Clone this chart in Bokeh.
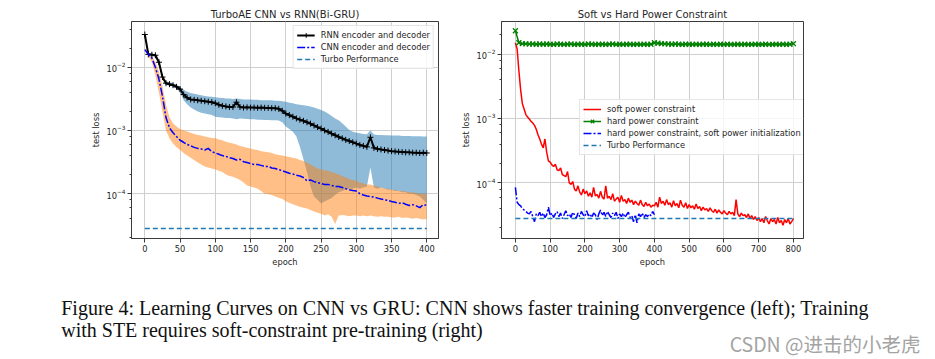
from bokeh.plotting import figure
from bokeh.models import Range1d, SingleIntervalTicker, LogTicker
from bokeh.layouts import column, row
from bokeh.embed import file_html
from bokeh.resources import INLINE
from bokeh.core.properties import value

# ---------------- data: left chart (TurboAE CNN vs RNN) ----------------
epochs_left = list(range(0, 401, 5))

rnn_loss = [3.3e-2, 1.6e-2, 1.58e-2, 1.55e-2, 1.2e-2, 7.0e-3, 5.6e-3, 5.4e-3, 5.2e-3, 4.9e-3,
            4.5e-3, 3.7e-3, 3.3e-3, 3.1e-3, 3.05e-3, 3.0e-3, 2.95e-3, 2.9e-3, 2.85e-3, 2.8e-3,
            2.7e-3, 2.55e-3, 2.45e-3, 2.4e-3, 2.35e-3, 2.35e-3, 2.8e-3, 2.35e-3, 2.3e-3, 2.32e-3,
            2.3e-3, 2.3e-3, 2.28e-3, 2.3e-3, 2.28e-3, 2.27e-3, 2.25e-3, 2.25e-3, 2.2e-3, 2.05e-3,
            1.85e-3, 1.75e-3, 1.65e-3, 1.55e-3, 1.48e-3, 1.42e-3, 1.35e-3, 1.28e-3, 1.2e-3, 1.13e-3,
            1.07e-3, 1.0e-3, 9.5e-4, 8.9e-4, 8.4e-4, 7.9e-4, 7.5e-4, 7.1e-4, 6.8e-4, 6.5e-4,
            6.2e-4, 5.9e-4, 5.7e-4, 5.5e-4, 7.8e-4, 5.3e-4, 5.1e-4, 5.0e-4, 4.9e-4, 4.8e-4,
            4.7e-4, 4.65e-4, 4.6e-4, 4.55e-4, 4.5e-4, 4.5e-4, 4.45e-4, 4.45e-4, 4.4e-4, 4.45e-4,
            4.4e-4]
rnn_upper = [3.4e-2, 1.7e-2, 1.65e-2, 1.6e-2, 1.3e-2, 7.5e-3, 6.0e-3, 5.8e-3, 5.6e-3, 5.3e-3,
             4.9e-3, 4.4e-3, 4.1e-3, 3.9e-3, 3.8e-3, 3.7e-3, 3.6e-3, 3.5e-3, 3.45e-3, 3.4e-3,
             3.35e-3, 3.3e-3, 3.25e-3, 3.2e-3, 3.2e-3, 3.15e-3, 3.2e-3, 3.15e-3, 3.1e-3, 3.1e-3,
             3.1e-3, 3.05e-3, 3.05e-3, 3.0e-3, 3.0e-3, 3.0e-3, 3.0e-3, 2.95e-3, 2.95e-3, 2.9e-3,
             2.85e-3, 2.75e-3, 2.7e-3, 2.6e-3, 2.55e-3, 2.5e-3, 2.45e-3, 2.4e-3, 2.3e-3, 2.2e-3,
             2.1e-3, 2.0e-3, 1.85e-3, 1.7e-3, 1.55e-3, 1.45e-3, 1.3e-3, 1.15e-3, 1.02e-3, 9.5e-4,
             9.2e-4, 9.0e-4, 8.8e-4, 8.7e-4, 1.0e-3, 8.6e-4, 8.5e-4, 8.5e-4, 8.4e-4, 8.4e-4,
             8.3e-4, 8.3e-4, 8.3e-4, 8.2e-4, 8.2e-4, 8.2e-4, 8.1e-4, 8.1e-4, 8.1e-4, 8.0e-4,
             8.0e-4]
rnn_lower = [3.2e-2, 1.5e-2, 1.5e-2, 1.45e-2, 1.1e-2, 6.5e-3, 5.3e-3, 5.1e-3, 4.9e-3, 4.6e-3,
             4.0e-3, 3.0e-3, 2.6e-3, 2.3e-3, 2.15e-3, 2.0e-3, 1.9e-3, 1.85e-3, 1.8e-3, 1.75e-3,
             1.65e-3, 1.62e-3, 1.6e-3, 1.58e-3, 1.57e-3, 1.55e-3, 1.5e-3, 1.55e-3, 1.53e-3, 1.52e-3,
             1.5e-3, 1.5e-3, 1.48e-3, 1.48e-3, 1.47e-3, 1.46e-3, 1.45e-3, 1.45e-3, 1.44e-3, 1.35e-3,
             1.15e-3, 1.05e-3, 9.5e-4, 8.0e-4, 5.5e-4, 3.5e-4, 2.2e-4, 1.3e-4, 9.0e-5, 8.0e-5,
             7.0e-5, 7.5e-5, 8.0e-5, 8.5e-5, 9.5e-5, 1.05e-4, 1.1e-4, 1.15e-4, 1.2e-4, 1.2e-4,
             1.25e-4, 1.2e-4, 1.25e-4, 1.3e-4, 2.6e-4, 1.25e-4, 1.2e-4, 1.25e-4, 1.2e-4, 1.15e-4,
             1.15e-4, 1.1e-4, 1.1e-4, 1.05e-4, 1.05e-4, 1.0e-4, 1.0e-4, 9.5e-5, 9.0e-5, 8.0e-5,
             7.0e-5]

cnn_loss = [1.9e-2, 1.6e-2, 1.4e-2, 1.0e-2, 6.5e-3, 3.5e-3, 1.6e-3, 1.1e-3, 9.2e-4, 8.0e-4,
            7.0e-4, 6.5e-4, 6.0e-4, 5.7e-4, 5.4e-4, 5.2e-4, 5.1e-4, 4.9e-4, 5.2e-4, 4.6e-4,
            4.4e-4, 4.2e-4, 4.0e-4, 3.9e-4, 3.7e-4, 3.6e-4, 3.4e-4, 3.5e-4, 3.2e-4, 3.1e-4,
            3.0e-4, 2.9e-4, 2.9e-4, 2.8e-4, 2.7e-4, 2.7e-4, 2.55e-4, 2.5e-4, 2.4e-4, 2.3e-4,
            2.2e-4, 2.1e-4, 2.05e-4, 1.95e-4, 1.9e-4, 1.8e-4, 1.6e-4, 1.65e-4, 1.55e-4, 1.5e-4,
            1.45e-4, 1.4e-4, 1.4e-4, 1.35e-4, 1.3e-4, 1.3e-4, 1.25e-4, 1.2e-4, 1.15e-4, 1.12e-4,
            1.1e-4, 1.0e-4, 9.5e-5, 9.2e-5, 9.0e-5, 8.8e-5, 8.5e-5, 8.2e-5, 8.0e-5, 7.8e-5,
            7.5e-5, 7.3e-5, 7.0e-5, 7.2e-5, 6.8e-5, 6.5e-5, 6.7e-5, 6.4e-5, 6.0e-5, 6.7e-5,
            6.5e-5]
cnn_upper = [2.0e-2, 1.7e-2, 1.5e-2, 1.2e-2, 8.5e-3, 5.0e-3, 2.6e-3, 1.6e-3, 1.3e-3, 1.15e-3,
             1.05e-3, 1.0e-3, 9.6e-4, 9.2e-4, 8.8e-4, 8.5e-4, 8.3e-4, 8.0e-4, 7.8e-4, 7.6e-4,
             7.5e-4, 7.2e-4, 7.0e-4, 6.6e-4, 6.4e-4, 6.2e-4, 6.0e-4, 5.7e-4, 5.5e-4, 5.3e-4,
             5.2e-4, 5.0e-4, 4.9e-4, 4.7e-4, 4.6e-4, 4.5e-4, 4.4e-4, 4.2e-4, 4.1e-4, 4.0e-4,
             3.9e-4, 3.8e-4, 3.7e-4, 3.6e-4, 3.4e-4, 3.3e-4, 3.1e-4, 2.9e-4, 2.7e-4, 2.5e-4,
             2.4e-4, 2.35e-4, 2.3e-4, 2.2e-4, 2.1e-4, 2.0e-4, 1.9e-4, 1.8e-4, 1.7e-4, 1.65e-4,
             1.6e-4, 1.5e-4, 1.45e-4, 1.4e-4, 1.4e-4, 1.35e-4, 1.3e-4, 1.25e-4, 1.2e-4, 1.2e-4,
             1.15e-4, 1.15e-4, 1.1e-4, 1.1e-4, 1.08e-4, 1.05e-4, 1.05e-4, 1.02e-4, 1.0e-4, 1.0e-4,
             1.0e-4]
cnn_lower = [1.8e-2, 1.5e-2, 1.2e-2, 7.5e-3, 4.0e-3, 2.0e-3, 1.0e-3, 7.5e-4, 6.2e-4, 5.4e-4,
             4.9e-4, 4.4e-4, 4.0e-4, 3.7e-4, 3.4e-4, 3.1e-4, 2.9e-4, 2.7e-4, 2.6e-4, 2.5e-4,
             2.4e-4, 2.3e-4, 2.2e-4, 2.0e-4, 1.9e-4, 1.85e-4, 1.75e-4, 1.65e-4, 1.5e-4, 1.35e-4,
             1.3e-4, 1.25e-4, 1.2e-4, 1.1e-4, 1.0e-4, 9.8e-5, 9.5e-5, 9.0e-5, 8.6e-5, 8.2e-5,
             7.6e-5, 7.2e-5, 6.8e-5, 6.5e-5, 6.2e-5, 6.0e-5, 5.8e-5, 5.5e-5, 5.2e-5, 5.0e-5,
             4.8e-5, 4.5e-5, 4.7e-5, 4.3e-5, 3.3e-5, 4.5e-5, 4.6e-5, 4.5e-5, 4.4e-5, 4.5e-5,
             4.5e-5, 4.4e-5, 4.5e-5, 4.4e-5, 4.5e-5, 4.4e-5, 4.3e-5, 4.4e-5, 4.3e-5, 4.3e-5,
             4.2e-5, 4.2e-5, 4.3e-5, 4.1e-5, 4.2e-5, 4.1e-5, 4.0e-5, 4.1e-5, 4.0e-5, 3.9e-5,
             4.0e-5]

turbo_left_x = [0, 400]
turbo_left_y = [2.8e-5, 2.8e-5]

# ---------------- data: right chart (Soft vs Hard Power Constraint) ----------------
epochs_soft = list(range(0, 801, 5))
soft_loss = [1.5e-2, 1.2e-2, 5.5e-3, 2.8e-3, 1.7e-3, 1.4e-3, 1.15e-3, 1.05e-3, 9.8e-4, 9.0e-4,
             8.5e-4, 7.8e-4, 6.8e-4, 5.6e-4, 4.8e-4, 4.0e-4, 3.5e-4, 4.8e-4, 3.0e-4, 2.2e-4,
             2.1e-4, 1.9e-4, 1.8e-4, 1.95e-4, 1.6e-4, 1.55e-4, 1.7e-4, 1.35e-4, 1.3e-4, 1.25e-4,
             1.5e-4, 1.0e-4, 9.5e-5, 1.05e-4, 8.0e-5, 7.5e-5, 9.0e-5, 7.2e-5, 6.5e-5, 8.0e-5,
             6.8e-5, 7.5e-5, 6.2e-5, 7.0e-5, 6.0e-5, 8.5e-5, 6.3e-5, 6.6e-5, 5.8e-5, 7.4e-5,
             6.0e-5, 5.6e-5, 9.0e-5, 5.8e-5, 6.2e-5, 5.5e-5, 6.8e-5, 5.2e-5, 5.6e-5, 6.0e-5,
             5.0e-5, 6.4e-5, 5.2e-5, 5.5e-5, 4.8e-5, 5.8e-5, 5.0e-5, 5.4e-5, 4.6e-5, 5.2e-5,
             4.8e-5, 4.5e-5, 5.4e-5, 4.6e-5, 4.3e-5, 5.0e-5, 4.4e-5, 4.7e-5, 4.2e-5, 4.5e-5,
             4.4e-5, 5.0e-5, 4.2e-5, 6.0e-5, 4.8e-5, 5.2e-5, 4.5e-5, 5.5e-5, 4.6e-5, 4.9e-5,
             4.2e-5, 5.3e-5, 4.4e-5, 4.8e-5, 4.1e-5, 5.4e-5, 4.5e-5, 4.2e-5, 4.9e-5, 4.0e-5,
             4.6e-5, 4.1e-5, 4.4e-5, 3.9e-5, 4.7e-5, 4.0e-5, 4.3e-5, 3.7e-5, 4.2e-5, 3.8e-5,
             4.0e-5, 3.6e-5, 4.1e-5, 3.7e-5, 3.5e-5, 3.9e-5, 3.4e-5, 3.8e-5, 3.5e-5, 3.3e-5,
             3.7e-5, 3.4e-5, 3.2e-5, 3.6e-5, 3.3e-5, 3.5e-5, 3.1e-5, 5.5e-5, 3.3e-5, 3.0e-5,
             3.4e-5, 3.1e-5, 3.2e-5, 2.9e-5, 3.3e-5, 2.8e-5, 3.1e-5, 2.7e-5, 3.0e-5, 2.6e-5,
             2.9e-5, 2.5e-5, 2.8e-5, 2.4e-5, 3.0e-5, 2.6e-5, 2.3e-5, 2.8e-5, 2.5e-5, 2.7e-5,
             2.3e-5, 2.9e-5, 2.4e-5, 2.6e-5, 2.2e-5, 2.7e-5, 2.4e-5, 2.8e-5, 2.3e-5, 2.5e-5,
             2.8e-5]

epochs_hard = list(range(0, 801, 10))
hard_loss = [2.3e-2, 1.5e-2, 1.45e-2, 1.44e-2, 1.43e-2, 1.43e-2, 1.42e-2, 1.43e-2, 1.42e-2, 1.43e-2,
             1.42e-2, 1.41e-2, 1.43e-2, 1.42e-2, 1.41e-2, 1.42e-2, 1.43e-2, 1.41e-2, 1.42e-2, 1.42e-2,
             1.41e-2, 1.43e-2, 1.42e-2, 1.41e-2, 1.42e-2, 1.42e-2, 1.41e-2, 1.42e-2, 1.43e-2, 1.41e-2,
             1.42e-2, 1.41e-2, 1.42e-2, 1.42e-2, 1.41e-2, 1.42e-2, 1.41e-2, 1.42e-2, 1.41e-2, 1.42e-2,
             1.5e-2, 1.47e-2, 1.45e-2, 1.44e-2, 1.43e-2, 1.42e-2, 1.43e-2, 1.42e-2, 1.41e-2, 1.42e-2,
             1.42e-2, 1.41e-2, 1.42e-2, 1.41e-2, 1.42e-2, 1.42e-2, 1.41e-2, 1.42e-2, 1.41e-2, 1.42e-2,
             1.41e-2, 1.42e-2, 1.41e-2, 1.41e-2, 1.42e-2, 1.41e-2, 1.42e-2, 1.41e-2, 1.41e-2, 1.42e-2,
             1.41e-2, 1.41e-2, 1.42e-2, 1.41e-2, 1.41e-2, 1.42e-2, 1.41e-2, 1.42e-2, 1.41e-2, 1.42e-2,
             1.45e-2]

epochs_init = list(range(0, 401, 5))
init_loss = [8.5e-5, 5.0e-5, 4.6e-5, 4.4e-5, 4.0e-5, 3.8e-5, 3.6e-5, 3.4e-5, 3.3e-5, 3.6e-5,
             3.0e-5, 2.5e-5, 3.3e-5, 3.1e-5, 3.5e-5, 3.0e-5, 3.4e-5, 2.9e-5, 3.2e-5, 4.2e-5,
             3.1e-5, 3.4e-5, 2.9e-5, 3.3e-5, 3.6e-5, 3.0e-5, 3.4e-5, 2.8e-5, 3.2e-5, 3.7e-5,
             3.1e-5, 3.3e-5, 2.9e-5, 3.5e-5, 3.2e-5, 2.8e-5, 3.4e-5, 3.0e-5, 3.6e-5, 3.2e-5,
             3.0e-5, 3.7e-5, 3.1e-5, 3.3e-5, 2.9e-5, 3.4e-5, 3.2e-5, 2.7e-5, 3.3e-5, 3.8e-5,
             3.1e-5, 3.5e-5, 3.0e-5, 3.6e-5, 3.2e-5, 2.9e-5, 3.4e-5, 3.1e-5, 3.5e-5, 2.8e-5,
             3.3e-5, 3.0e-5, 3.4e-5, 2.9e-5, 3.2e-5, 3.5e-5, 2.9e-5, 3.1e-5, 2.5e-5, 3.2e-5,
             2.4e-5, 3.3e-5, 3.0e-5, 3.4e-5, 2.9e-5, 3.2e-5, 3.0e-5, 3.3e-5, 3.1e-5, 3.6e-5,
             3.2e-5]

turbo_right_x = [0, 800]
turbo_right_y = [2.8e-5, 2.8e-5]

caption_lines = ["Figure 4: Learning Curves on CNN vs GRU: CNN shows faster training convergence (left); Training",
                 "with STE requires soft-constraint pre-training (right)"]
watermark = "CSDN @进击的小老虎"

FONT = "DejaVu Sans"
TXT = "#262626"
EDGE = "#3a3a3a"


def style(p, interval):
    p.title.text_font = FONT
    p.title.text_font_size = "10px"
    p.title.text_font_style = "normal"
    p.title.text_color = TXT
    p.title.align = "center"
    p.title.standoff = 3
    p.outline_line_color = EDGE
    p.outline_line_width = 1
    p.background_fill_color = "white"
    p.border_fill_color = "white"
    p.xaxis.ticker = SingleIntervalTicker(interval=interval, num_minor_ticks=0)
    p.yaxis.ticker = LogTicker(desired_num_ticks=4)
    for ax in (p.xaxis[0], p.yaxis[0]):
        ax.axis_line_color = EDGE
        ax.major_tick_line_color = EDGE
        ax.minor_tick_line_color = EDGE
        ax.major_tick_out = 4
        ax.major_tick_in = 0
        ax.minor_tick_out = 2
        ax.minor_tick_in = 0
        ax.major_label_standoff = 2
        ax.axis_label_standoff = 2
        ax.major_label_text_font = FONT
        ax.major_label_text_font_size = "8.3px"
        ax.major_label_text_color = TXT
        ax.axis_label_text_font = FONT
        ax.axis_label_text_font_size = "8.3px"
        ax.axis_label_text_font_style = "normal"
        ax.axis_label_text_color = TXT
    p.xaxis.axis_label = "epoch"
    p.yaxis.axis_label = "test loss"
    p.grid.grid_line_color = "#cfcfcf"
    p.grid.grid_line_width = 1
    p.ygrid.minor_grid_line_color = None


# ---------------- left figure ----------------
p1 = figure(y_axis_type="log", x_range=Range1d(-18.9, 416.6), y_range=Range1d(1.95e-5, 5.3e-2),
            frame_width=307, frame_height=217, min_border_left=131, min_border_right=20,
            min_border_top=21, min_border_bottom=30, title="TurboAE CNN vs RNN(Bi-GRU)",
            output_backend="svg", toolbar_location=None)
style(p1, 50)

p1.varea(x=epochs_left, y1=rnn_lower, y2=rnn_upper, fill_color="#1f77b4", fill_alpha=0.5)
p1.varea(x=epochs_left, y1=cnn_lower, y2=cnn_upper, fill_color="#ff7f0e", fill_alpha=0.5)
p1.line(epochs_left, rnn_loss, line_color="black", line_width=2, legend_label="RNN encoder and decoder")
p1.scatter(epochs_left, rnn_loss, marker="cross", size=6, line_color="black", line_width=1,
           legend_label="RNN encoder and decoder")
p1.line(epochs_left, cnn_loss, line_color="#0000ff", line_width=1.5, line_dash="8 2 2 2",
        legend_label="CNN encoder and decoder")
p1.line(turbo_left_x, turbo_left_y, line_color="#1f77b4", line_width=1.5, line_dash="5 3",
        legend_label="Turbo Performance")

# ---------------- right figure ----------------
p2 = figure(y_axis_type="log", x_range=Range1d(-40, 829), y_range=Range1d(1.37e-5, 3.2e-2),
            frame_width=302, frame_height=217, min_border_left=41, min_border_right=10,
            min_border_top=21, min_border_bottom=30, title="Soft vs Hard Power Constraint",
            output_backend="svg", toolbar_location=None)
style(p2, 100)

p2.line(epochs_soft, soft_loss, line_color="#ff0000", line_width=1.5, legend_label="soft power constraint")
p2.line(epochs_hard, hard_loss, line_color="#008000", line_width=1.5, legend_label="hard power constraint")
p2.scatter(epochs_hard, hard_loss, marker="x", size=7, line_color="#008000", line_width=1.3,
           legend_label="hard power constraint")
p2.line(epochs_init, init_loss, line_color="#0000ff", line_width=1.5, line_dash="8 2 2 2",
        legend_label="hard power constraint, soft power initialization")
p2.line(turbo_right_x, turbo_right_y, line_color="#1f77b4", line_width=1.5, line_dash="5 3",
        legend_label="Turbo Performance")

for p in (p1, p2):
    lg = p.legend[0]
    lg.label_text_font = FONT
    lg.label_text_font_size = "8.3px"
    lg.label_text_color = TXT
    lg.label_height = 12
    lg.glyph_height = 12
    lg.glyph_width = 18
    lg.label_standoff = 6
    lg.spacing = 0
    lg.padding = 3
    lg.margin = 4
    lg.border_line_color = "#cccccc"
    lg.border_line_width = 1
    lg.background_fill_alpha = 0.8

p1.legend.location = "top_right"
p2.legend.location = (78, 83)

# ---------------- caption ----------------
cap = figure(width=935, height=91, x_range=Range1d(0, 935), y_range=Range1d(91, 0),
             min_border=0, x_axis_location=None, y_axis_location=None,
             output_backend="svg", toolbar_location=None)
cap.outline_line_color = None
cap.grid.visible = False
cap.text(x=[60.7, 60.7], y=[38, 60], text=caption_lines, text_font=value("Liberation Serif"),
         text_font_size="20px", text_color="#111111", text_baseline="alphabetic", text_align="left")
cap.text(x=[920], y=[73.7], text=[watermark], text_font=value("Noto Sans CJK SC"),
         text_font_size="19.5px", text_color="#a3a3a3", text_baseline="middle", text_align="right")

layout = column(row(p1, p2), cap)
open("out.html", "w").write(file_html(layout, INLINE))
